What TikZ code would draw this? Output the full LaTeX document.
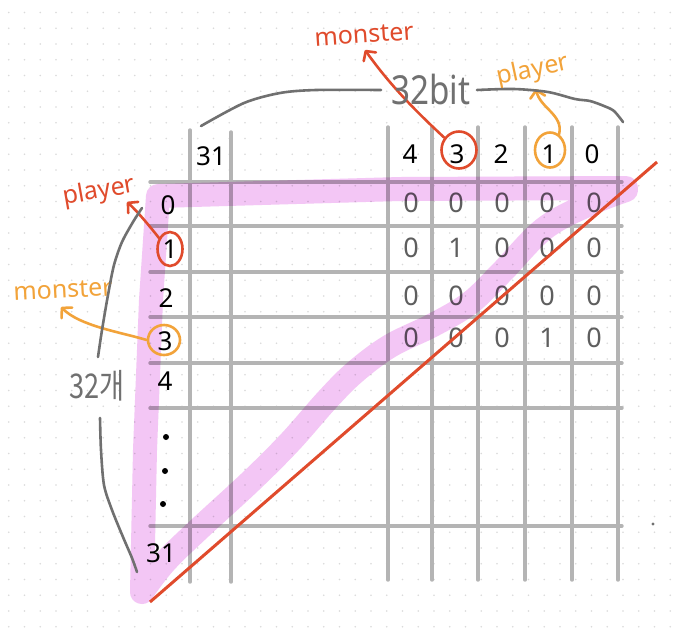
\documentclass[tikz,border=0pt]{standalone}
\usepackage{graphicx}
\usepackage{fontspec}
\setmainfont{Noto Sans}
\newfontfamily\krfont{Noto Sans CJK KR}
\usetikzlibrary{arrows.meta,shapes.geometric}
\definecolor{redc}{HTML}{E04B2C}
\definecolor{orangec}{HTML}{F2A33A}
\definecolor{gridc}{HTML}{B4B4B4}
\definecolor{bracec}{HTML}{707070}
\definecolor{cellc}{HTML}{5E5E5E}
\definecolor{pinkc}{HTML}{F3C6F5}
\definecolor{dotc}{HTML}{DADADA}
\tikzset{
  gridline/.style={draw=gridc, line width=3.4pt, line cap=round},
  hdr/.style={font=\fontsize{26}{26}\selectfont, text=black, inner sep=0pt},
  cellnum/.style={font=\fontsize{27}{27}\selectfont, text=cellc, inner sep=0pt},
  lbl/.style={font=\fontsize{25}{25}\selectfont, inner sep=0pt},
  pinkband/.style={draw=pinkc, line width=24pt, line cap=round, line join=round, blend mode=multiply},
  redline/.style={draw=redc, line width=3pt},
  bracestroke/.style={draw=bracec, line width=2.6pt, line cap=round, line join=round},
  handarrow/.style={line width=2.6pt, line cap=round, -{Straight Barb[length=7pt,width=15pt,round]}},
  ring/.style={ellipse, draw, line width=2.6pt, inner sep=0pt},
  vdot/.style={circle, fill=black, inner sep=0pt, minimum size=6pt},
}
\begin{document}
\begin{tikzpicture}[x=1pt,y=-1pt]
\useasboundingbox (0,0) rectangle (685,630);
\fill[white] (0,0) rectangle (685,630);
% dotted paper
\foreach \i in {0,...,43} {
  \foreach \j in {0,...,39} {
    \fill[dotc] (8.8+15.75*\i, 12.5+15.75*\j) circle (0.9pt);
  }
}
% grid
\foreach \y in {182,226,272,317,363,408,526} {
  \draw[gridline] (150,\y) -- (622,\y);
}
\foreach \x/\t/\b in {190/130/582, 231/132/582, 388/127/580, 432/127/580, 478/127/580, 525/127/580, 572/127/580, 618/127/580} {
  \draw[gridline] (\x,\t) -- (\x,\b);
}
% header labels
\node[hdr] (h31) at (211,156) {31};
\node[hdr] (h4) at (410,154) {4};
\node[hdr] (h3) at (457,154) {3};
\node[hdr] (h2) at (501,154) {2};
\node[hdr] (h1) at (549,154) {1};
\node[hdr] (h0) at (592,154) {0};
% row labels
\node[hdr] (v0) at (168,205) {0};
\node[hdr] (v1) at (170,249) {1};
\node[hdr] (v2) at (166,298) {2};
\node[hdr] (v3) at (165,341) {3};
\node[hdr] (v4) at (165,381) {4};
\node[vdot] (d1) at (166,437) {};
\node[vdot] (d2) at (165,471) {};
\node[vdot] (d3) at (163,504) {};
\node[hdr] (v31) at (161,553) {31};
% cells
\foreach \r/\yy/\vals in {0/203/{0,0,0,0,0}, 1/248/{0,1,0,0,0}, 2/296/{0,0,0,0,0}, 3/338/{0,0,0,1,0}} {
  \foreach \v [count=\c] in \vals {
    \pgfmathsetmacro{\xx}{{411,456,502,547,594}[\c-1]}
    \node[cellnum] (cell-\r-\c) at (\xx,\yy) {\v};
  }
}
% pink highlight
\draw[pinkband] (626,188) -- (400,189) -- (158,196) -- (151,300) -- (145,450) -- (142,592)
  -- plot[smooth, tension=0.6] coordinates {(142,592) (165,562) (200,528) (250,482) (290,442) (327,400) (355,372) (390,346) (433,325) (470,303) (502,272) (545,228) (592,203) (626,190)};
% red diagonal
\coordinate (rA) at (150,602);
\coordinate (rB) at (657,162);
\draw[redline] (rA) -- (rB);
% rings
\node[ring, draw=redc, minimum width=35pt, minimum height=37pt] (ring3) at (459,150) {};
\node[ring, draw=orangec, minimum width=30pt, minimum height=35pt] (ring1) at (550,150) {};
\node[ring, draw=redc, minimum width=25pt, minimum height=34pt] (ringL1) at (170,249) {};
\node[ring, draw=orangec, minimum width=32pt, minimum height=30pt] (ringL3) at (164,340) {};
% labels
\node[lbl, text=redc, rotate=4] (monT) at (364,35) {monster};
\node[lbl, text=orangec, rotate=12] (plT) at (533,71) {player};
\node[lbl, text=redc, rotate=10] (plL) at (99,192) {player};
\node[lbl, text=orangec, rotate=3] (monL) at (63,290) {monster};
% arrow tips
\coordinate (tMT) at (365,50);
\coordinate (tPT) at (536,89);
\coordinate (tPL) at (127,202);
\coordinate (tML) at (61,307);
\draw[handarrow, redc] (ring3.140) .. controls (420,115) and (392,88) .. (tMT);
\draw[handarrow, orangec] (ring1.60) .. controls (564,115) and (540,108) .. (tPT);
\draw[handarrow, redc] (ringL1.135) .. controls (148,224) and (136,210) .. (tPL);
\draw[handarrow, orangec] (ringL3.west) .. controls (120,332) and (80,326) .. (tML);
% top brace
\node[font=\fontsize{40}{40}\selectfont, text=bracec, inner sep=0pt] (bits) at (431,89) {\scalebox{0.83}[1]{32bit}};
\draw[bracestroke] plot[smooth] coordinates {(201,126) (244,103) (280,93) (316,90) (381,90)};
\draw[bracestroke] plot[smooth] coordinates {(477,90) (514,89) (548,92) (575,99) (590,101) (604,106) (614,111) (623,122)};
% left brace
\node[font=\krfont\fontsize{34}{34}\selectfont, text=bracec, inner sep=0pt] (cnt) at (97,386) {\scalebox{0.8}[1]{32개}};
\draw[bracestroke] plot[smooth] coordinates {(142,208) (133,222) (122,242) (114,265) (108,295) (102,330) (98,357)};
\draw[bracestroke] plot[smooth] coordinates {(100,418) (101,450) (104,485) (112,510) (123,537) (132,558) (137,572)};
% stray dot
\fill[bracec] (653,524) circle (1.6pt);
\end{tikzpicture}
\end{document}
